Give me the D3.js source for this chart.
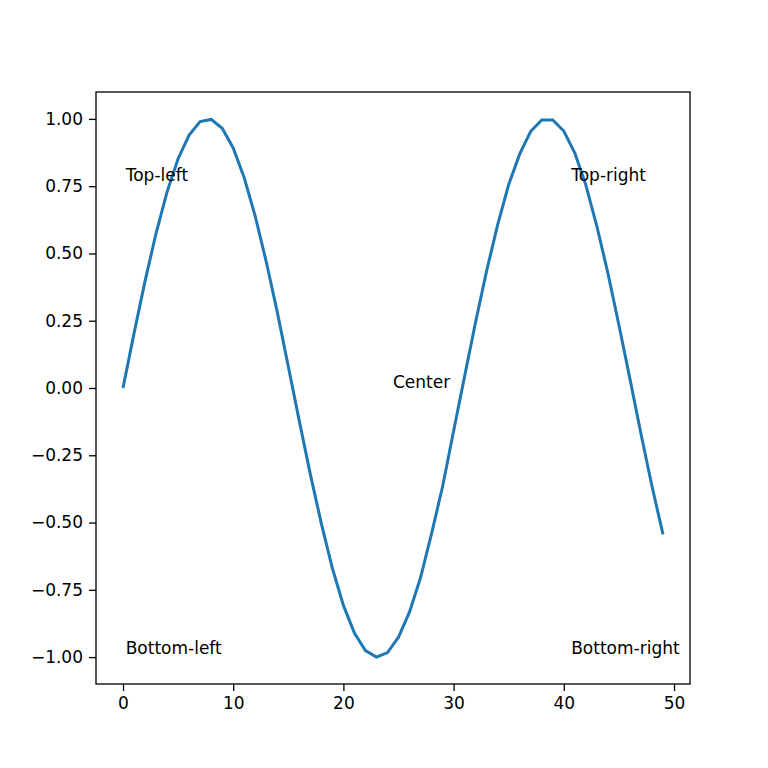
<!DOCTYPE html>
<html><head><meta charset="utf-8">
<script src="https://cdn.jsdelivr.net/npm/d3@7"></script>
<style>body{margin:0;background:#fff}text{font-family:"DejaVu Sans",sans-serif}</style>
</head><body>
<svg width="768" height="768"></svg>
<script>
const yValues = [0,0.203,0.397,0.575,0.729,0.852,0.940,0.990,0.998,0.965,0.892,0.781,0.638,0.469,0.282,0.080,
  -0.123,-0.321,-0.504,-0.670,-0.808,-0.911,-0.976,-1.000,-0.983,-0.926,-0.832,-0.705,-0.541,-0.366,-0.160,
  0.044,0.246,0.436,0.607,0.756,0.870,0.954,0.996,0.996,0.955,0.873,0.754,0.601,0.427,0.234,0.034,-0.170,-0.365,-0.544];
const xTicks = [0, 10, 20, 30, 40, 50];
const yTicks = [-1, -0.75, -0.5, -0.25, 0, 0.25, 0.5, 0.75, 1];
const labels = [
  {text: 'Top-left', fx: 0.05, fy: 0.85},
  {text: 'Top-right', fx: 0.8, fy: 0.85},
  {text: 'Center', fx: 0.5, fy: 0.5},
  {text: 'Bottom-left', fx: 0.05, fy: 0.05},
  {text: 'Bottom-right', fx: 0.8, fy: 0.05}
];

const svg = d3.select('svg');
const mLeft = 96, mRight = 690, mTop = 92, mBottom = 684;

const x = d3.scaleLinear().domain([-2.45, 51.45]).range([mLeft, mRight]);
const y = d3.scaleLinear().domain([-1.1, 1.1]).range([mBottom, mTop]);

const xAxis = svg.append('g').attr('transform', `translate(0,${mBottom})`)
  .call(d3.axisBottom(x).tickValues(xTicks).tickSize(7).tickPadding(6));
const yAxis = svg.append('g').attr('transform', `translate(${mLeft},0)`)
  .call(d3.axisLeft(y).tickValues(yTicks).tickFormat(d3.format('.2f')).tickSize(7).tickPadding(6));
[xAxis, yAxis].forEach(a => {
  a.select('.domain').remove();
  a.selectAll('text').attr('font-size', 17).attr('fill', '#000').style('font-family', '"DejaVu Sans"');
  a.selectAll('line').attr('stroke', '#000').attr('stroke-width', 1.3);
});
yAxis.selectAll('text').text(d => d3.format('.2f')(d).replace('-', '\u2212'));

svg.append('path').datum(yValues)
  .attr('fill', 'none').attr('stroke', '#1f77b4').attr('stroke-width', 3)
  .attr('d', d3.line().x((d, i) => x(i)).y(d => y(d)));

svg.append('rect').attr('x', mLeft).attr('y', mTop).attr('width', mRight - mLeft).attr('height', mBottom - mTop)
  .attr('fill', 'none').attr('stroke', '#000').attr('stroke-width', 1.3);

svg.selectAll('.lab').data(labels).enter().append('text')
  .attr('x', d => mLeft + d.fx * (mRight - mLeft))
  .attr('y', d => mBottom - d.fy * (mBottom - mTop))
  .attr('font-size', 17).text(d => d.text);
</script>
</body></html>
